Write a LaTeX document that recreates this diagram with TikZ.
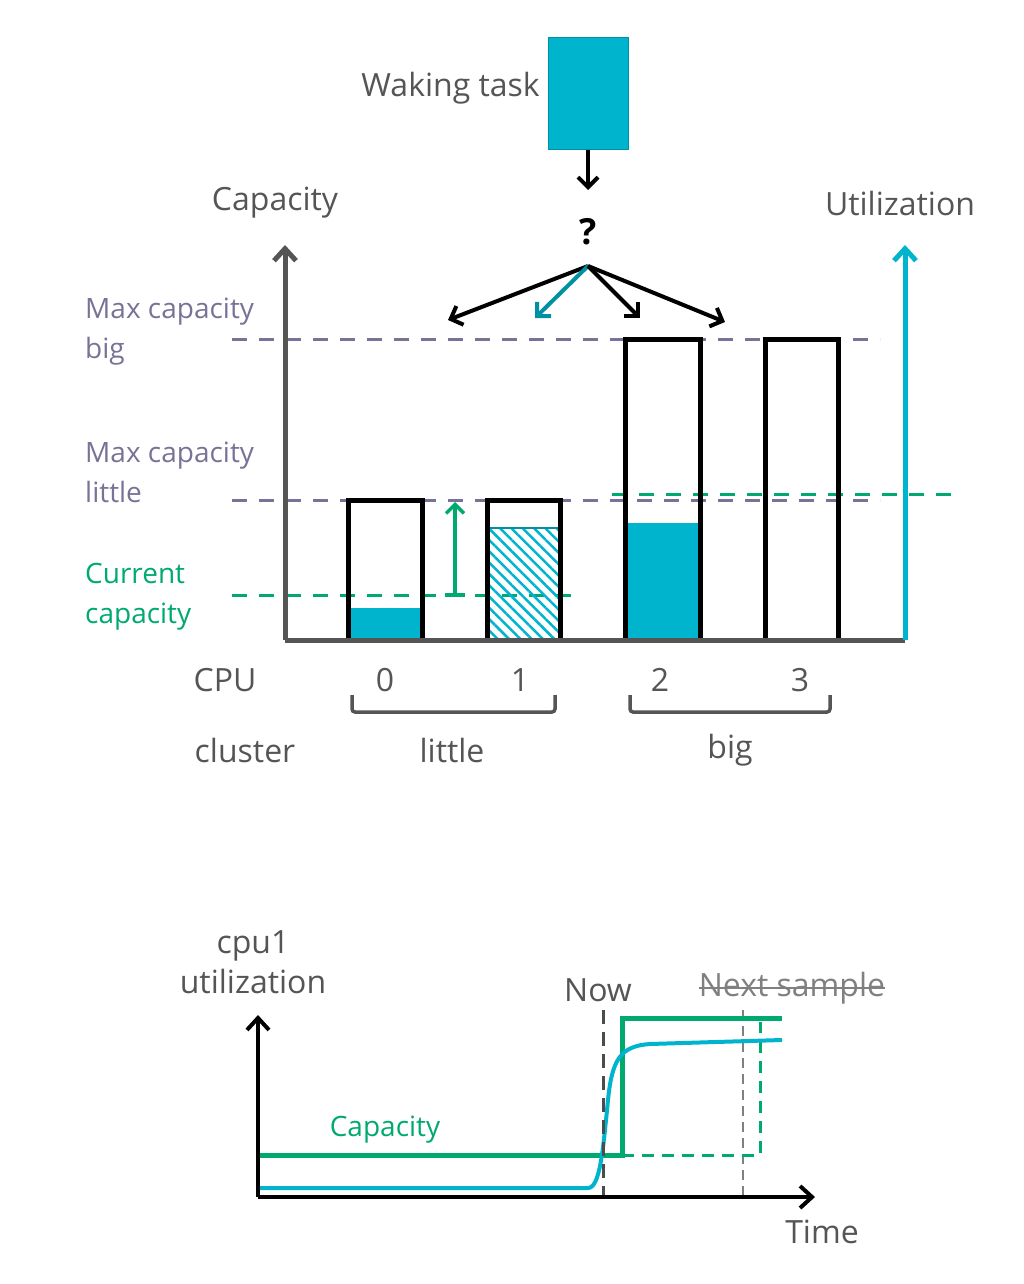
\documentclass[tikz,border=0pt]{standalone}
\usepackage{fontspec}
\setmainfont{Open Sans}
\usetikzlibrary{arrows.meta,patterns.meta,decorations.pathreplacing}
\definecolor{cy}{RGB}{0,180,205}
\definecolor{gr}{RGB}{0,170,110}
\definecolor{pu}{RGB}{120,115,150}
\definecolor{tx}{RGB}{85,85,85}
\begin{document}
\begin{tikzpicture}[x=1pt,y=-1pt,
  lbl/.style={font=\fontsize{32}{40}\selectfont,text=tx,inner sep=0},
  sml/.style={font=\fontsize{28}{40}\selectfont,inner sep=0,align=left},
  bar/.style={draw=black,line width=5},
  arr/.style={line width=4,-{Straight Barb[length=10,width=20]}},
  pdash/.style={pu,line width=3,dash pattern=on 15 off 12},
  gdash/.style={gr,line width=3,dash pattern=on 15 off 12}]
\useasboundingbox (0,0) rectangle (1024,1284);
% waking task
\node[fill=cy,draw=cy!80!black,line width=1,minimum width=80,minimum height=112,inner sep=0] (task) at (588,94) {};
\node[lbl,anchor=east] (wt) at (540,88) {Waking task};
\node[font=\fontsize{36}{40}\selectfont\bfseries,inner sep=0] (q) at (588,232) {?};
\coordinate (qo) at (588,266);
\coordinate (qa) at (448,320);
\coordinate (qb) at (535,318);
\coordinate (qc) at (640,318);
\coordinate (qd) at (725,322);
\draw[arr] (task.south) -- (588,190);
\draw[arr] (qo) -- (qa);
\draw[arr,cy!80!black] (qo) -- (qb);
\draw[arr] (qo) -- (qc);
\draw[arr] (qo) -- (qd);
% dashed levels
\draw[pdash] (232,339) -- (880,339);
\draw[pdash] (232,500) -- (880,500);
\draw[gdash] (232,595) -- (575,595);
\draw[gdash] (612,494) -- (960,494);
\node[sml,text=pu,anchor=west] (mcb) at (85,332) {Max capacity\\big};
\node[sml,text=pu,anchor=west] (mcl) at (85,472) {Max capacity\\little};
\node[sml,text=gr,anchor=west] (cc) at (85,597) {Current\\capacity};
% bars
\fill[cy] (348,608) rectangle (422,640);
\fill[pattern={Lines[angle=-45,distance=8,line width=2.5]},pattern color=cy] (487,528) rectangle (560,640);
\draw[cy!80!black,line width=2] (487,528) -- (560,528);
\fill[cy] (625,523) rectangle (700,640);
\draw[bar] (348,640) -- (348,500) -- (422,500) -- (422,640);
\draw[bar] (487,640) -- (487,500) -- (560,500) -- (560,640);
\draw[bar] (625,640) -- (625,339) -- (700,339) -- (700,640);
\draw[bar] (765,640) -- (765,339) -- (838,339) -- (838,640);
% green arrow
\draw[gr,line width=3.5,-{Straight Barb[length=9,width=18]}] (455,595) -- (455,502);
\draw[gr,line width=3.5] (445,595) -- (465,595);
% axes
\coordinate (o) at (285,640);
\draw[tx,line width=5,-{Straight Barb[length=12,width=22]}] (o) -- (285,245);
\draw[tx,line width=5] (o) -- (905,640);
\draw[cy,line width=5,-{Straight Barb[length=12,width=22]}] (905,640) -- (905,245);
\node[lbl] (cap) at (275,203) {Capacity};
\node[lbl] (util) at (900,203) {Utilization};
% cpu labels
\node[lbl] (cpu) at (225,680) {CPU};
\node[lbl] (c0) at (385,680) {0};
\node[lbl] (c1) at (520,680) {1};
\node[lbl] (c2) at (660,680) {2};
\node[lbl] (c3) at (800,680) {3};
\draw[tx,line width=3.5,rounded corners=3] (352,695) -- (352,712) -- (555,712) -- (555,695);
\draw[tx,line width=3.5,rounded corners=3] (630,695) -- (630,712) -- (830,712) -- (830,695);
\node[lbl] (cl) at (245,750) {cluster};
\node[lbl] (lt) at (452,750) {little};
\node[lbl] (bg) at (730,750) {big};
% bottom graph
\node[lbl,align=center] (cu) at (253,962) {cpu1\\utilization};
\draw[gray,line width=2,dash pattern=on 10 off 6] (743,1010) -- (743,1197);
\draw[gr,line width=3,dash pattern=on 12 off 8] (622,1155) -- (760,1155) -- (760,1022);
\draw[gr,line width=5] (258,1155) -- (622,1155) -- (622,1018) -- (782,1018);
\draw[cy,line width=4] (258,1188) -- (588,1188) .. controls (600,1188) and (603,1150) .. (608,1100) .. controls (612,1060) and (620,1046) .. (650,1044) -- (782,1040);
\draw[black!70,line width=3,dash pattern=on 14 off 8] (603,1010) -- (603,1197);
\draw[line width=4,-{Straight Barb[length=12,width=22]}] (258,1197) -- (258,1015);
\draw[line width=4,-{Straight Barb[length=12,width=22]}] (258,1197) -- (815,1197);
\node[lbl] (now) at (598,990) {Now};
\node[lbl,text=gray] (ns) at (792,988) {Next sample};
\draw[gray,line width=2] (ns.west |- ns.center) -- (ns.east |- ns.center);
\node[sml,text=gr] (capl) at (385,1130) {Capacity};
\node[lbl] (time) at (822,1232) {Time};
\end{tikzpicture}
\end{document}
